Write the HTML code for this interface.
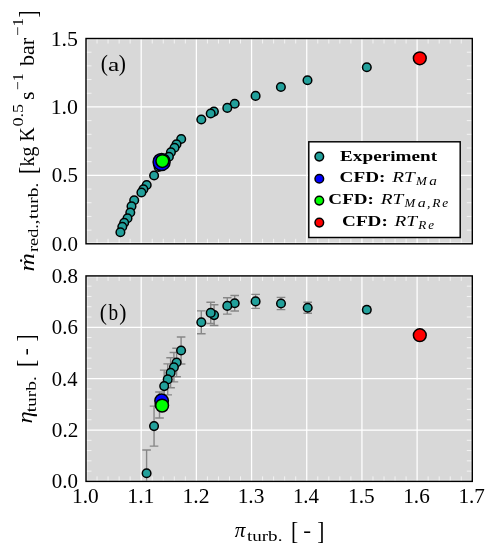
<!DOCTYPE html><html><head><meta charset="utf-8"><style>html,body{margin:0;padding:0;background:#fff;}svg{display:block;}text{font-family:"Liberation Serif", "DejaVu Serif", serif;}</style></head><body>
<svg width="494" height="550" viewBox="0 0 494 550">
<rect width="494" height="550" fill="#fff"/>
<rect x="86.0" y="38.5" width="386.30" height="205.30" fill="#d8d8d8"/>
<path d="M97.04 243.80V238.80M97.04 38.50V43.50M108.07 243.80V238.80M108.07 38.50V43.50M119.11 243.80V238.80M119.11 38.50V43.50M130.15 243.80V238.80M130.15 38.50V43.50M152.22 243.80V238.80M152.22 38.50V43.50M163.26 243.80V238.80M163.26 38.50V43.50M174.30 243.80V238.80M174.30 38.50V43.50M185.33 243.80V238.80M185.33 38.50V43.50M207.41 243.80V238.80M207.41 38.50V43.50M218.45 243.80V238.80M218.45 38.50V43.50M229.48 243.80V238.80M229.48 38.50V43.50M240.52 243.80V238.80M240.52 38.50V43.50M262.59 243.80V238.80M262.59 38.50V43.50M273.63 243.80V238.80M273.63 38.50V43.50M284.67 243.80V238.80M284.67 38.50V43.50M295.71 243.80V238.80M295.71 38.50V43.50M317.78 243.80V238.80M317.78 38.50V43.50M328.82 243.80V238.80M328.82 38.50V43.50M339.85 243.80V238.80M339.85 38.50V43.50M350.89 243.80V238.80M350.89 38.50V43.50M372.97 243.80V238.80M372.97 38.50V43.50M384.00 243.80V238.80M384.00 38.50V43.50M395.04 243.80V238.80M395.04 38.50V43.50M406.08 243.80V238.80M406.08 38.50V43.50M428.15 243.80V238.80M428.15 38.50V43.50M439.19 243.80V238.80M439.19 38.50V43.50M450.23 243.80V238.80M450.23 38.50V43.50M461.26 243.80V238.80M461.26 38.50V43.50M86.00 230.11H91.50M472.30 230.11H466.80M86.00 216.43H91.50M472.30 216.43H466.80M86.00 202.74H91.50M472.30 202.74H466.80M86.00 189.05H91.50M472.30 189.05H466.80M86.00 161.68H91.50M472.30 161.68H466.80M86.00 147.99H91.50M472.30 147.99H466.80M86.00 134.31H91.50M472.30 134.31H466.80M86.00 120.62H91.50M472.30 120.62H466.80M86.00 93.25H91.50M472.30 93.25H466.80M86.00 79.56H91.50M472.30 79.56H466.80M86.00 65.87H91.50M472.30 65.87H466.80M86.00 52.19H91.50M472.30 52.19H466.80" stroke="#fff" stroke-width="1" opacity="0.7" fill="none"/>
<path d="M141.19 38.50V243.80M196.37 38.50V243.80M251.56 38.50V243.80M306.74 38.50V243.80M361.93 38.50V243.80M417.11 38.50V243.80M86.00 175.37H472.30M86.00 106.93H472.30" stroke="#fff" stroke-width="1.25" fill="none"/>
<rect x="86.0" y="275.9" width="386.30" height="205.50" fill="#d8d8d8"/>
<path d="M97.04 481.40V476.40M97.04 275.90V280.90M108.07 481.40V476.40M108.07 275.90V280.90M119.11 481.40V476.40M119.11 275.90V280.90M130.15 481.40V476.40M130.15 275.90V280.90M152.22 481.40V476.40M152.22 275.90V280.90M163.26 481.40V476.40M163.26 275.90V280.90M174.30 481.40V476.40M174.30 275.90V280.90M185.33 481.40V476.40M185.33 275.90V280.90M207.41 481.40V476.40M207.41 275.90V280.90M218.45 481.40V476.40M218.45 275.90V280.90M229.48 481.40V476.40M229.48 275.90V280.90M240.52 481.40V476.40M240.52 275.90V280.90M262.59 481.40V476.40M262.59 275.90V280.90M273.63 481.40V476.40M273.63 275.90V280.90M284.67 481.40V476.40M284.67 275.90V280.90M295.71 481.40V476.40M295.71 275.90V280.90M317.78 481.40V476.40M317.78 275.90V280.90M328.82 481.40V476.40M328.82 275.90V280.90M339.85 481.40V476.40M339.85 275.90V280.90M350.89 481.40V476.40M350.89 275.90V280.90M372.97 481.40V476.40M372.97 275.90V280.90M384.00 481.40V476.40M384.00 275.90V280.90M395.04 481.40V476.40M395.04 275.90V280.90M406.08 481.40V476.40M406.08 275.90V280.90M428.15 481.40V476.40M428.15 275.90V280.90M439.19 481.40V476.40M439.19 275.90V280.90M450.23 481.40V476.40M450.23 275.90V280.90M461.26 481.40V476.40M461.26 275.90V280.90M86.00 471.12H91.50M472.30 471.12H466.80M86.00 460.85H91.50M472.30 460.85H466.80M86.00 450.57H91.50M472.30 450.57H466.80M86.00 440.30H91.50M472.30 440.30H466.80M86.00 419.75H91.50M472.30 419.75H466.80M86.00 409.47H91.50M472.30 409.47H466.80M86.00 399.20H91.50M472.30 399.20H466.80M86.00 388.92H91.50M472.30 388.92H466.80M86.00 368.38H91.50M472.30 368.38H466.80M86.00 358.10H91.50M472.30 358.10H466.80M86.00 347.82H91.50M472.30 347.82H466.80M86.00 337.55H91.50M472.30 337.55H466.80M86.00 317.00H91.50M472.30 317.00H466.80M86.00 306.72H91.50M472.30 306.72H466.80M86.00 296.45H91.50M472.30 296.45H466.80M86.00 286.17H91.50M472.30 286.17H466.80" stroke="#fff" stroke-width="1" opacity="0.7" fill="none"/>
<path d="M141.19 275.90V481.40M196.37 275.90V481.40M251.56 275.90V481.40M306.74 275.90V481.40M361.93 275.90V481.40M417.11 275.90V481.40M86.00 430.02H472.30M86.00 378.65H472.30M86.00 327.27H472.30" stroke="#fff" stroke-width="1.25" fill="none"/>
<clipPath id="cb"><rect x="86.0" y="275.9" width="386.30" height="205.50"/></clipPath>
<clipPath id="ct"><rect x="86.0" y="38.5" width="386.30" height="205.30"/></clipPath>
<g clip-path="url(#ct)">
<circle cx="366.8" cy="67.2" r="4.3" fill="#22a09b" stroke="#000" stroke-width="1.5"/>
<circle cx="307.5" cy="80.2" r="4.3" fill="#22a09b" stroke="#000" stroke-width="1.5"/>
<circle cx="280.9" cy="87.0" r="4.3" fill="#22a09b" stroke="#000" stroke-width="1.5"/>
<circle cx="255.6" cy="95.9" r="4.3" fill="#22a09b" stroke="#000" stroke-width="1.5"/>
<circle cx="234.7" cy="103.7" r="4.3" fill="#22a09b" stroke="#000" stroke-width="1.5"/>
<circle cx="227.3" cy="107.9" r="4.3" fill="#22a09b" stroke="#000" stroke-width="1.5"/>
<circle cx="213.9" cy="111.6" r="4.3" fill="#22a09b" stroke="#000" stroke-width="1.5"/>
<circle cx="210.7" cy="113.5" r="4.3" fill="#22a09b" stroke="#000" stroke-width="1.5"/>
<circle cx="201.3" cy="119.5" r="4.3" fill="#22a09b" stroke="#000" stroke-width="1.5"/>
<circle cx="181.2" cy="139.0" r="4.3" fill="#22a09b" stroke="#000" stroke-width="1.5"/>
<circle cx="176.5" cy="144.2" r="4.3" fill="#22a09b" stroke="#000" stroke-width="1.5"/>
<circle cx="174.5" cy="147.8" r="4.3" fill="#22a09b" stroke="#000" stroke-width="1.5"/>
<circle cx="170.9" cy="152.3" r="4.3" fill="#22a09b" stroke="#000" stroke-width="1.5"/>
<circle cx="168.9" cy="156.7" r="4.3" fill="#22a09b" stroke="#000" stroke-width="1.5"/>
<circle cx="164.2" cy="160" r="4.3" fill="#22a09b" stroke="#000" stroke-width="1.5"/>
<circle cx="158.6" cy="167" r="4.3" fill="#22a09b" stroke="#000" stroke-width="1.5"/>
<circle cx="154.1" cy="175.5" r="4.3" fill="#22a09b" stroke="#000" stroke-width="1.5"/>
<circle cx="146.7" cy="185.0" r="4.3" fill="#22a09b" stroke="#000" stroke-width="1.5"/>
<circle cx="143.4" cy="189.3" r="4.3" fill="#22a09b" stroke="#000" stroke-width="1.5"/>
<circle cx="141.4" cy="192.5" r="4.3" fill="#22a09b" stroke="#000" stroke-width="1.5"/>
<circle cx="134.2" cy="200.2" r="4.3" fill="#22a09b" stroke="#000" stroke-width="1.5"/>
<circle cx="131.5" cy="206.3" r="4.3" fill="#22a09b" stroke="#000" stroke-width="1.5"/>
<circle cx="130.3" cy="212.5" r="4.3" fill="#22a09b" stroke="#000" stroke-width="1.5"/>
<circle cx="127.5" cy="218.3" r="4.3" fill="#22a09b" stroke="#000" stroke-width="1.5"/>
<circle cx="124.2" cy="222.8" r="4.3" fill="#22a09b" stroke="#000" stroke-width="1.5"/>
<circle cx="122.3" cy="226.8" r="4.3" fill="#22a09b" stroke="#000" stroke-width="1.5"/>
<circle cx="120.4" cy="232.2" r="4.3" fill="#22a09b" stroke="#000" stroke-width="1.5"/>
<circle cx="161.6" cy="161.9" r="8.5" fill="#0000ff" stroke="#000" stroke-width="1.5"/>
<circle cx="162.35" cy="161.05" r="6.4" fill="#00ff00" stroke="#000" stroke-width="1.5"/>
<circle cx="419.8" cy="58.3" r="6.4" fill="#ff0000" stroke="#000" stroke-width="1.5"/>
</g>
<g clip-path="url(#cb)">
<path d="M146.6 450.00V496.60M142.30 450.00H150.90M142.30 496.60H150.90M154.05 406.10V446.10M149.75 406.10H158.35M149.75 446.10H158.35M159.5 392.00V418.00M155.20 392.00H163.80M155.20 418.00H163.80M164.2 370.10V402.10M159.90 370.10H168.50M159.90 402.10H168.50M167.7 363.90V394.90M163.40 363.90H172.00M163.40 394.90H172.00M170.6 357.70V387.70M166.30 357.70H174.90M166.30 387.70H174.90M173.9 352.50V381.90M169.60 352.50H178.20M169.60 381.90H178.20M176.6 348.20V376.80M172.30 348.20H180.90M172.30 376.80H180.90M181.1 337.00V364.00M176.80 337.00H185.40M176.80 364.00H185.40M201.3 310.90V333.70M197.00 310.90H205.60M197.00 333.70H205.60M210.7 302.30V323.50M206.40 302.30H215.00M206.40 323.50H215.00M214.1 304.70V325.50M209.80 304.70H218.40M209.80 325.50H218.40M227.3 297.70V314.10M223.00 297.70H231.60M223.00 314.10H231.60M234.7 295.45V310.95M230.40 295.45H239.00M230.40 310.95H239.00M255.6 294.40V308.40M251.30 294.40H259.90M251.30 308.40H259.90M281 297.40V309.60M276.70 297.40H285.30M276.70 309.60H285.30M307.7 302.30V313.30M303.40 302.30H312.00M303.40 313.30H312.00M366.8 306.70V312.70M362.50 306.70H371.10M362.50 312.70H371.10" stroke="#878787" stroke-width="1.4" fill="none"/>
<circle cx="366.8" cy="309.7" r="4.3" fill="#22a09b" stroke="#000" stroke-width="1.5"/>
<circle cx="307.7" cy="307.8" r="4.3" fill="#22a09b" stroke="#000" stroke-width="1.5"/>
<circle cx="281" cy="303.5" r="4.3" fill="#22a09b" stroke="#000" stroke-width="1.5"/>
<circle cx="255.6" cy="301.4" r="4.3" fill="#22a09b" stroke="#000" stroke-width="1.5"/>
<circle cx="234.7" cy="303.2" r="4.3" fill="#22a09b" stroke="#000" stroke-width="1.5"/>
<circle cx="227.3" cy="305.9" r="4.3" fill="#22a09b" stroke="#000" stroke-width="1.5"/>
<circle cx="214.1" cy="315.1" r="4.3" fill="#22a09b" stroke="#000" stroke-width="1.5"/>
<circle cx="210.7" cy="312.9" r="4.3" fill="#22a09b" stroke="#000" stroke-width="1.5"/>
<circle cx="201.3" cy="322.3" r="4.3" fill="#22a09b" stroke="#000" stroke-width="1.5"/>
<circle cx="181.1" cy="350.5" r="4.3" fill="#22a09b" stroke="#000" stroke-width="1.5"/>
<circle cx="176.6" cy="362.5" r="4.3" fill="#22a09b" stroke="#000" stroke-width="1.5"/>
<circle cx="173.9" cy="367.2" r="4.3" fill="#22a09b" stroke="#000" stroke-width="1.5"/>
<circle cx="170.6" cy="372.7" r="4.3" fill="#22a09b" stroke="#000" stroke-width="1.5"/>
<circle cx="167.7" cy="379.4" r="4.3" fill="#22a09b" stroke="#000" stroke-width="1.5"/>
<circle cx="164.2" cy="386.1" r="4.3" fill="#22a09b" stroke="#000" stroke-width="1.5"/>
<circle cx="159.5" cy="405" r="4.3" fill="#22a09b" stroke="#000" stroke-width="1.5"/>
<circle cx="154.05" cy="426.1" r="4.3" fill="#22a09b" stroke="#000" stroke-width="1.5"/>
<circle cx="146.6" cy="473.3" r="4.3" fill="#22a09b" stroke="#000" stroke-width="1.5"/>
<circle cx="161.6" cy="400.8" r="6.75" fill="#0000ff" stroke="#000" stroke-width="1.5"/>
<circle cx="162.1" cy="405.6" r="6.4" fill="#00ff00" stroke="#000" stroke-width="1.5"/>
<circle cx="419.8" cy="335.2" r="6.4" fill="#ff0000" stroke="#000" stroke-width="1.5"/>
</g>
<rect x="87.25" y="39.75" width="383.80" height="202.80" fill="none" stroke="#fff" stroke-width="0.9" opacity="0.45"/>
<rect x="86.0" y="38.5" width="386.30" height="205.30" fill="none" stroke="#000" stroke-width="1.4"/>
<rect x="87.25" y="277.15" width="383.80" height="203.00" fill="none" stroke="#fff" stroke-width="0.9" opacity="0.45"/>
<rect x="86.0" y="275.9" width="386.30" height="205.50" fill="none" stroke="#000" stroke-width="1.4"/>
<rect x="308.8" y="141.8" width="151.4" height="95.7" fill="#fff" stroke="#000" stroke-width="1.45"/>
<circle cx="319.3" cy="156.6" r="4.3" fill="#22a09b" stroke="#000" stroke-width="1.5"/>
<circle cx="319.3" cy="178.7" r="4.3" fill="#0000ff" stroke="#000" stroke-width="1.5"/>
<circle cx="319.3" cy="200.6" r="4.3" fill="#00ff00" stroke="#000" stroke-width="1.5"/>
<circle cx="319.3" cy="222.6" r="4.3" fill="#ff0000" stroke="#000" stroke-width="1.5"/>
<text transform="translate(340.07,160.60) scale(1.238,1.000)" font-size="15.5" font-weight="bold">Experiment</text>
<text transform="translate(339.56,182.20) scale(1.239,1.000)" font-size="15.5" font-weight="bold">CFD:</text>
<text transform="translate(392.20,182.20) scale(1.247,1.000)" font-size="15.5" font-style="italic">RT</text>
<text transform="translate(415.95,184.90) scale(1.104,1.000)" font-size="11.8" font-style="italic">M</text>
<text transform="translate(429.35,184.90) scale(1.293,1.000)" font-size="11.8" font-style="italic">a</text>
<text transform="translate(328.37,203.90) scale(1.230,1.000)" font-size="15.5" font-weight="bold">CFD:</text>
<text transform="translate(380.70,203.90) scale(1.247,1.000)" font-size="15.5" font-style="italic">RT</text>
<text transform="translate(404.55,206.60) scale(1.094,1.000)" font-size="11.8" font-style="italic">M</text>
<text transform="translate(417.82,206.60) scale(1.352,1.000)" font-size="11.8" font-style="italic">a</text>
<text transform="translate(426.95,206.60) scale(1.157,1.000)" font-size="11.8" font-style="italic">,</text>
<text transform="translate(432.27,206.60) scale(1.145,1.000)" font-size="11.8" font-style="italic">R</text>
<text transform="translate(442.29,206.60) scale(1.128,1.000)" font-size="11.8" font-style="italic">e</text>
<text transform="translate(342.06,225.90) scale(1.236,1.000)" font-size="15.5" font-weight="bold">CFD:</text>
<text transform="translate(394.50,225.90) scale(1.247,1.000)" font-size="15.5" font-style="italic">RT</text>
<text transform="translate(418.27,228.60) scale(1.117,1.000)" font-size="11.8" font-style="italic">R</text>
<text transform="translate(428.30,228.60) scale(1.106,1.000)" font-size="11.8" font-style="italic">e</text>
<text transform="translate(72.12,502.80) scale(0.993,1.000)" font-size="21.5">1.0</text>
<text transform="translate(127.27,502.80) scale(1.013,1.000)" font-size="21.5">1.1</text>
<text transform="translate(182.47,502.80) scale(1.008,1.000)" font-size="21.5">1.2</text>
<text transform="translate(237.68,502.80) scale(0.994,1.000)" font-size="21.5">1.3</text>
<text transform="translate(292.90,502.80) scale(0.974,1.000)" font-size="21.5">1.4</text>
<text transform="translate(348.05,502.80) scale(0.994,1.000)" font-size="21.5">1.5</text>
<text transform="translate(403.25,502.80) scale(0.986,1.000)" font-size="21.5">1.6</text>
<text transform="translate(458.44,502.80) scale(0.985,1.000)" font-size="21.5">1.7</text>
<text transform="translate(51.80,250.80) scale(0.975,1.000)" font-size="21.5">0.0</text>
<text transform="translate(51.80,182.37) scale(0.976,1.000)" font-size="21.5">0.5</text>
<text transform="translate(50.68,113.93) scale(1.018,1.000)" font-size="21.5">1.0</text>
<text transform="translate(50.67,45.50) scale(1.019,1.000)" font-size="21.5">1.5</text>
<text transform="translate(51.80,488.40) scale(0.975,1.000)" font-size="21.5">0.0</text>
<text transform="translate(51.79,437.02) scale(0.989,1.000)" font-size="21.5">0.2</text>
<text transform="translate(51.82,385.65) scale(0.956,1.000)" font-size="21.5">0.4</text>
<text transform="translate(51.81,334.27) scale(0.968,1.000)" font-size="21.5">0.6</text>
<text transform="translate(51.80,282.90) scale(0.975,1.000)" font-size="21.5">0.8</text>
<text transform="translate(100.79,70.50) scale(1.000,1.100)" font-size="21.5">(</text>
<text transform="translate(108.01,70.50) scale(1.298,1.000)" font-size="19.5">a</text>
<text transform="translate(118.70,70.50) scale(1.000,1.100)" font-size="21.5">)</text>
<text transform="translate(99.64,319.50) scale(1.000,1.100)" font-size="21.5">(</text>
<text transform="translate(108.40,319.50) scale(0.868,1.000)" font-size="22.2">b</text>
<text transform="translate(119.30,319.50) scale(1.000,1.100)" font-size="21.5">)</text>
<text transform="translate(234.79,537.20) scale(0.987,1.000)" font-size="21.5" font-style="italic">π</text>
<text transform="translate(246.91,541.00) scale(1.257,1.000)" font-size="15.2">turb.</text>
<text transform="translate(290.96,539.10) scale(1.000,1.210)" font-size="21.5">[</text>
<text transform="translate(303.33,537.20) scale(1.092,1.000)" font-size="21.5">-</text>
<text transform="translate(317.13,539.10) scale(1.000,1.210)" font-size="21.5">]</text>
<g transform="translate(31.8,422.7) rotate(-90)">
<text transform="translate(-0.88,0.00) scale(1.144,1.000)" font-size="21.5" font-style="italic">η</text>
<text transform="translate(10.41,3.70) scale(1.275,1.000)" font-size="15.2">turb.</text>
<text transform="translate(55.76,1.90) scale(1.000,1.210)" font-size="21.5">[</text>
<text transform="translate(67.51,0.00) scale(0.985,1.000)" font-size="21.5">-</text>
<text transform="translate(81.08,1.90) scale(1.000,1.210)" font-size="21.5">]</text>
</g>
<g transform="translate(33.8,270.7) rotate(-90)">
<text transform="translate(-0.92,0.00) scale(1.184,1.000)" font-size="21.5" font-style="italic">ṁ</text>
<text transform="translate(18.73,4.00) scale(1.200,1.000)" font-size="15.2">red.,</text>
<text transform="translate(51.71,4.00) scale(1.283,1.000)" font-size="15.2">turb.</text>
<text transform="translate(96.61,1.90) scale(1.000,1.210)" font-size="21.5">[</text>
<text transform="translate(104.22,0.00) scale(0.924,1.000)" font-size="21.5">kg</text>
<text transform="translate(129.23,0.00) scale(0.919,1.000)" font-size="21.5">K</text>
<text transform="translate(144.21,-10.70) scale(1.195,1.000)" font-size="15.2">0.5</text>
<text transform="translate(170.81,0.00) scale(1.014,1.000)" font-size="21.5">s</text>
<text transform="translate(180.40,-10.70) scale(1.055,1.000)" font-size="15.2">−1</text>
<text transform="translate(204.80,0.00) scale(1.023,1.000)" font-size="21.5">bar</text>
<text transform="translate(234.66,-10.70) scale(1.110,1.000)" font-size="15.2">−1</text>
<text transform="translate(253.13,1.90) scale(1.000,1.210)" font-size="21.5">]</text>
</g>
</svg></body></html>
